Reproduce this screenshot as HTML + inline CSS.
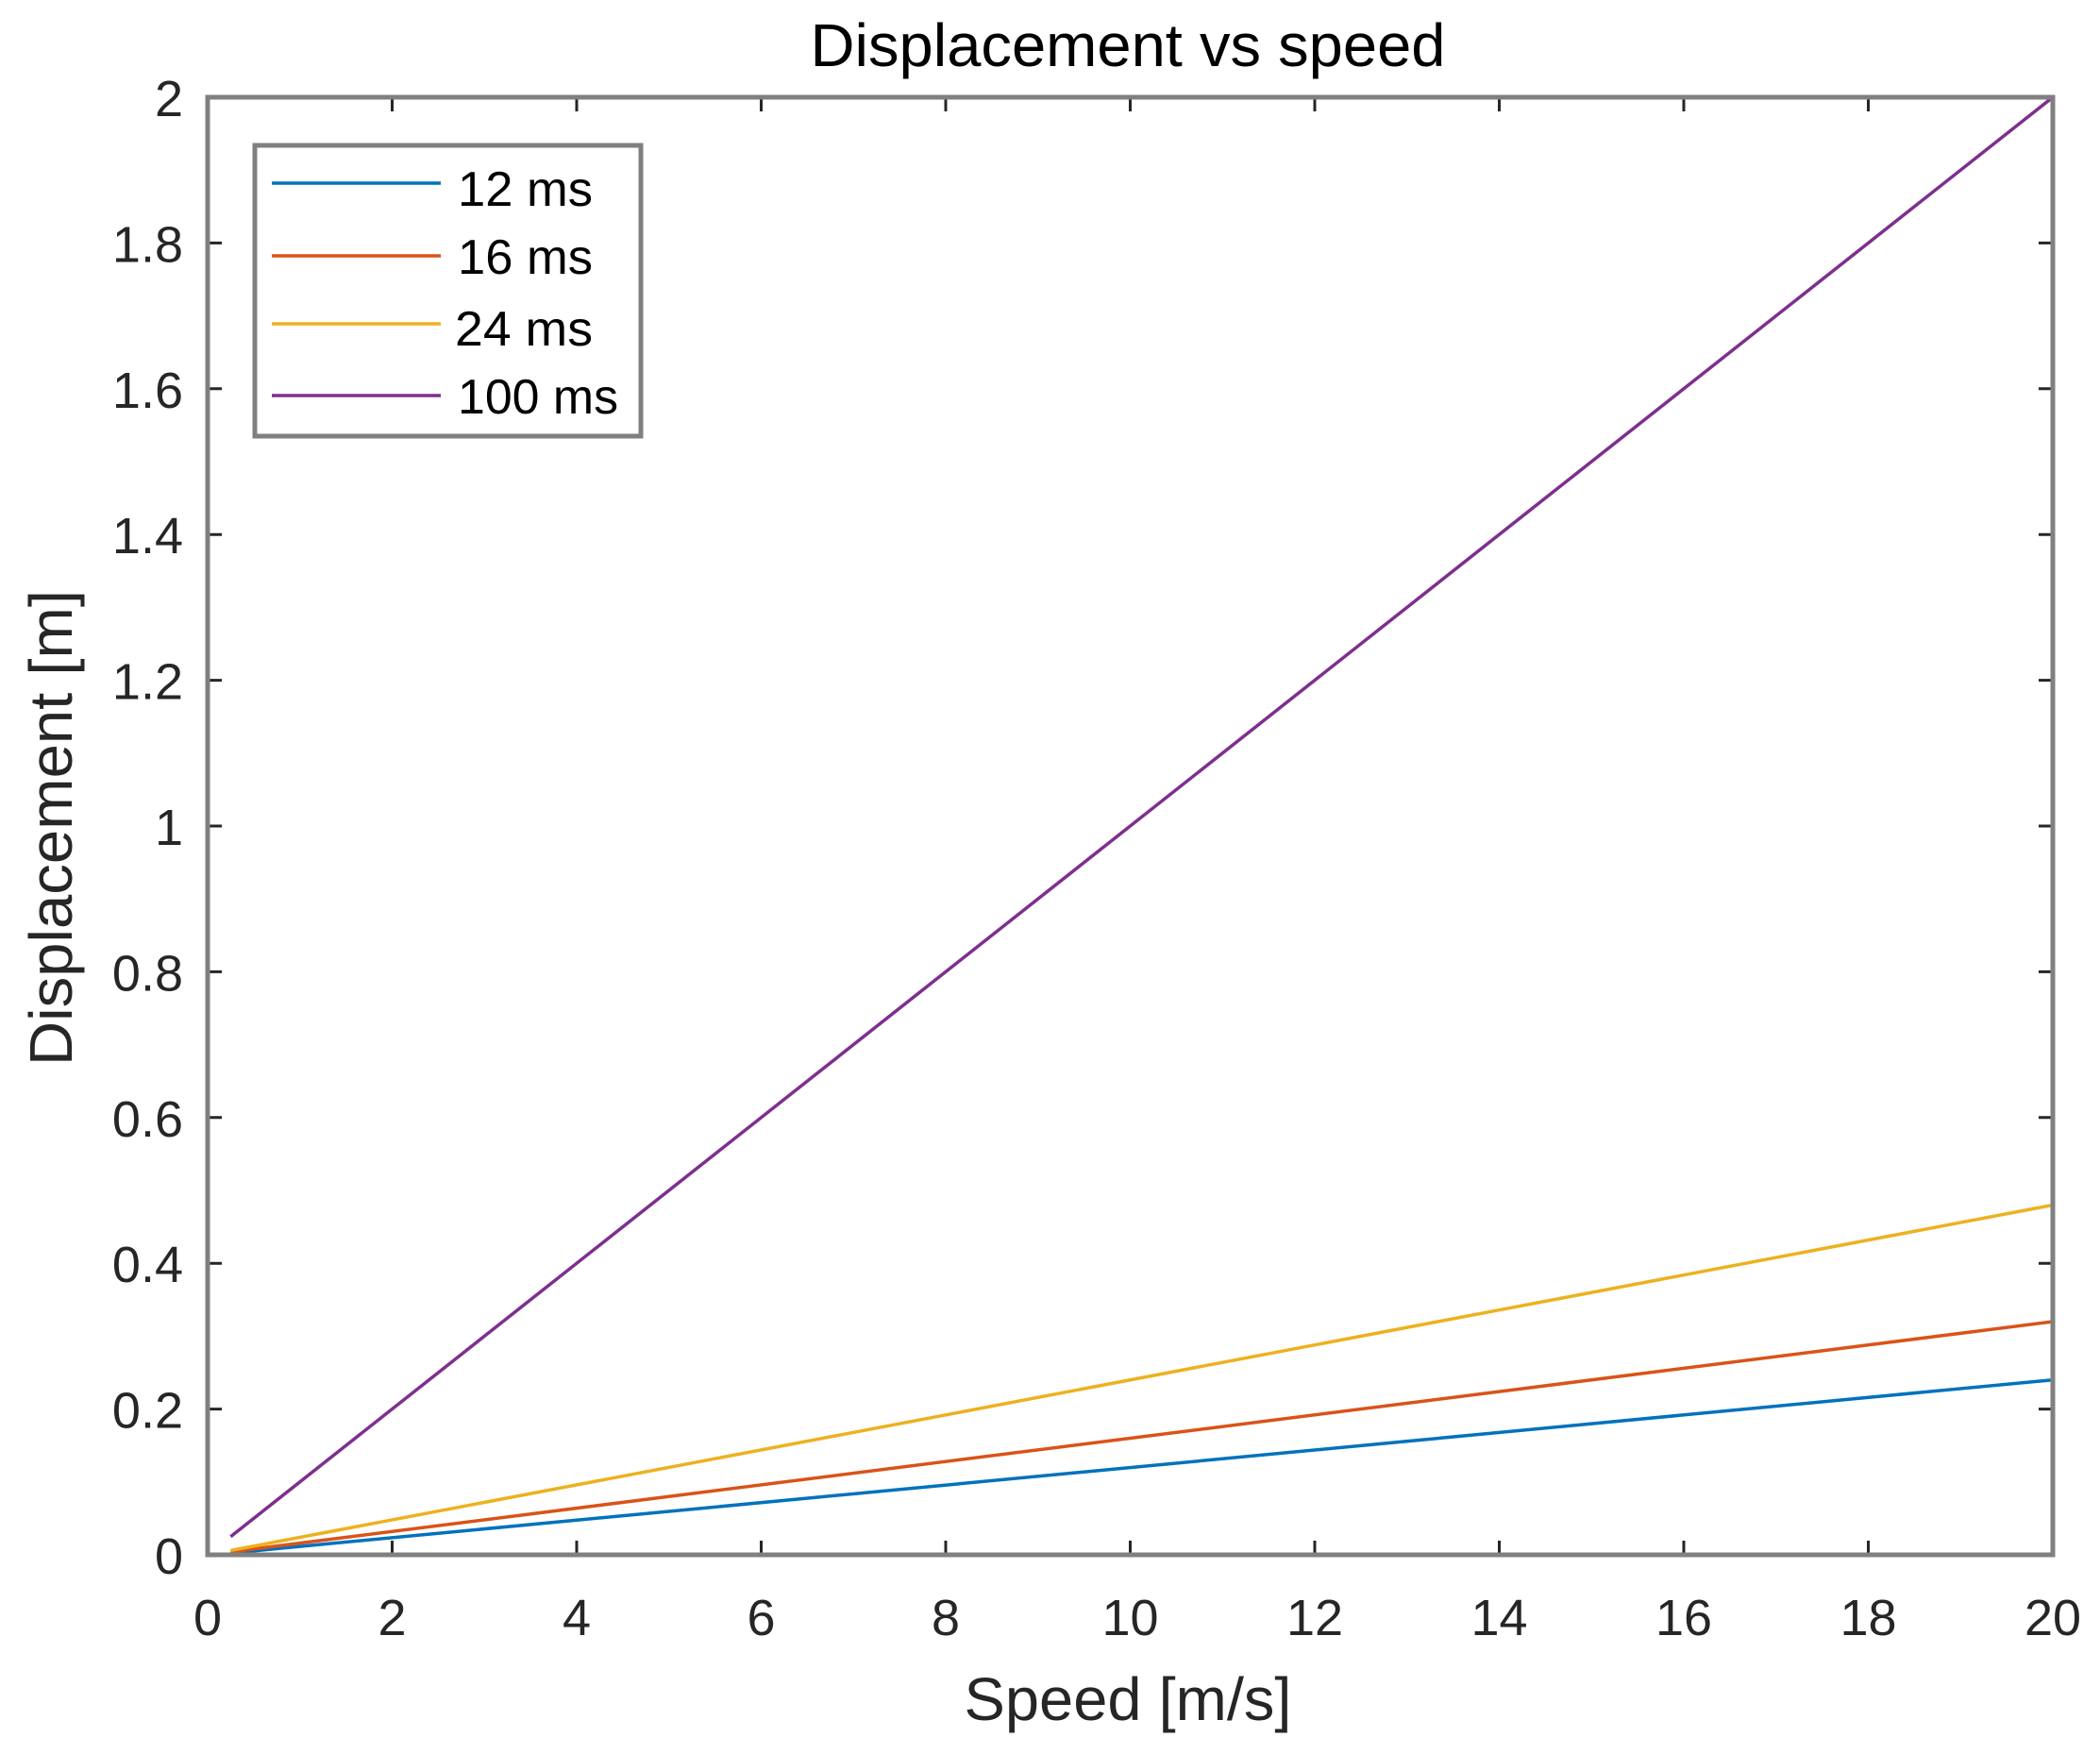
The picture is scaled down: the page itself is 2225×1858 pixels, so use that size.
<!DOCTYPE html>
<html><head><meta charset="utf-8"><style>html,body{margin:0;padding:0;background:#fff}svg{display:block}</style></head>
<body>
<svg width="2225" height="1858" viewBox="0 0 2225 1858" xmlns="http://www.w3.org/2000/svg" font-family="Liberation Sans, Arial, sans-serif">
<rect width="2225" height="1858" fill="#fff"/>
<g stroke-width="3.5" fill="none">
<line x1="244.4" y1="1645.1" x2="2175" y2="1461.7" stroke="#0072BD"/>
<line x1="244.4" y1="1643.9" x2="2175" y2="1400" stroke="#D95319"/>
<line x1="244.4" y1="1642.4" x2="2175" y2="1276.5" stroke="#EDB120"/>
<line x1="244.4" y1="1627.7" x2="2175" y2="103" stroke="#7E2F8E"/>
</g>
<g stroke="#262626" stroke-width="3">
<path d="M415.5 1647v-15M611 1647v-15M806.5 1647v-15M1002 1647v-15M1197.5 1647v-15M1393 1647v-15M1588.5 1647v-15M1784 1647v-15M1979.5 1647v-15
M415.5 103v15M611 103v15M806.5 103v15M1002 103v15M1197.5 103v15M1393 103v15M1588.5 103v15M1784 103v15M1979.5 103v15
M220 1492.6h15M220 1338.2h15M220 1183.8h15M220 1029.4h15M220 875h15M220 720.6h15M220 566.2h15M220 411.8h15M220 257.4h15
M2175 1492.6h-15M2175 1338.2h-15M2175 1183.8h-15M2175 1029.4h-15M2175 875h-15M2175 720.6h-15M2175 566.2h-15M2175 411.8h-15M2175 257.4h-15"/>
</g>
<rect x="220" y="103" width="1955" height="1544" fill="none" stroke="#808080" stroke-width="5"/>
<g font-size="54" fill="#262626" text-anchor="middle">
<text x="220" y="1732">0</text><text x="415.5" y="1732">2</text><text x="611" y="1732">4</text><text x="806.5" y="1732">6</text><text x="1002" y="1732">8</text><text x="1197.5" y="1732">10</text><text x="1393" y="1732">12</text><text x="1588.5" y="1732">14</text><text x="1784" y="1732">16</text><text x="1979.5" y="1732">18</text><text x="2175" y="1732">20</text>
</g>
<g font-size="54" fill="#262626" text-anchor="end">
<text x="194" y="1667">0</text><text x="194" y="1512.6">0.2</text><text x="194" y="1358.2">0.4</text><text x="194" y="1203.8">0.6</text><text x="194" y="1049.4">0.8</text><text x="194" y="895">1</text><text x="194" y="740.6">1.2</text><text x="194" y="586.2">1.4</text><text x="194" y="431.8">1.6</text><text x="194" y="277.4">1.8</text><text x="194" y="123">2</text>
</g>
<text x="1195" y="70" font-size="64" text-anchor="middle" fill="#000" textLength="673" lengthAdjust="spacingAndGlyphs">Displacement vs speed</text>
<text x="1195" y="1822" font-size="64" text-anchor="middle" fill="#262626" textLength="347" lengthAdjust="spacingAndGlyphs">Speed [m/s]</text>
<text transform="translate(76,877) rotate(-90)" font-size="64" text-anchor="middle" fill="#262626" textLength="504" lengthAdjust="spacingAndGlyphs">Displacement [m]</text>
<rect x="270" y="154" width="409" height="308" fill="#fff" stroke="#808080" stroke-width="5"/>
<g stroke-width="3.5">
<line x1="288" y1="194" x2="467" y2="194" stroke="#0072BD"/>
<line x1="288" y1="271" x2="467" y2="271" stroke="#D95319"/>
<line x1="288" y1="343" x2="467" y2="343" stroke="#EDB120"/>
<line x1="288" y1="419" x2="467" y2="419" stroke="#7E2F8E"/>
</g>
<g font-size="52" fill="#000">
<text x="485" y="218" textLength="143" lengthAdjust="spacingAndGlyphs">12 ms</text>
<text x="485" y="290" textLength="143" lengthAdjust="spacingAndGlyphs">16 ms</text>
<text x="482" y="366" textLength="146" lengthAdjust="spacingAndGlyphs">24 ms</text>
<text x="485" y="438" textLength="170" lengthAdjust="spacingAndGlyphs">100 ms</text>
</g>
</svg>
</body></html>
